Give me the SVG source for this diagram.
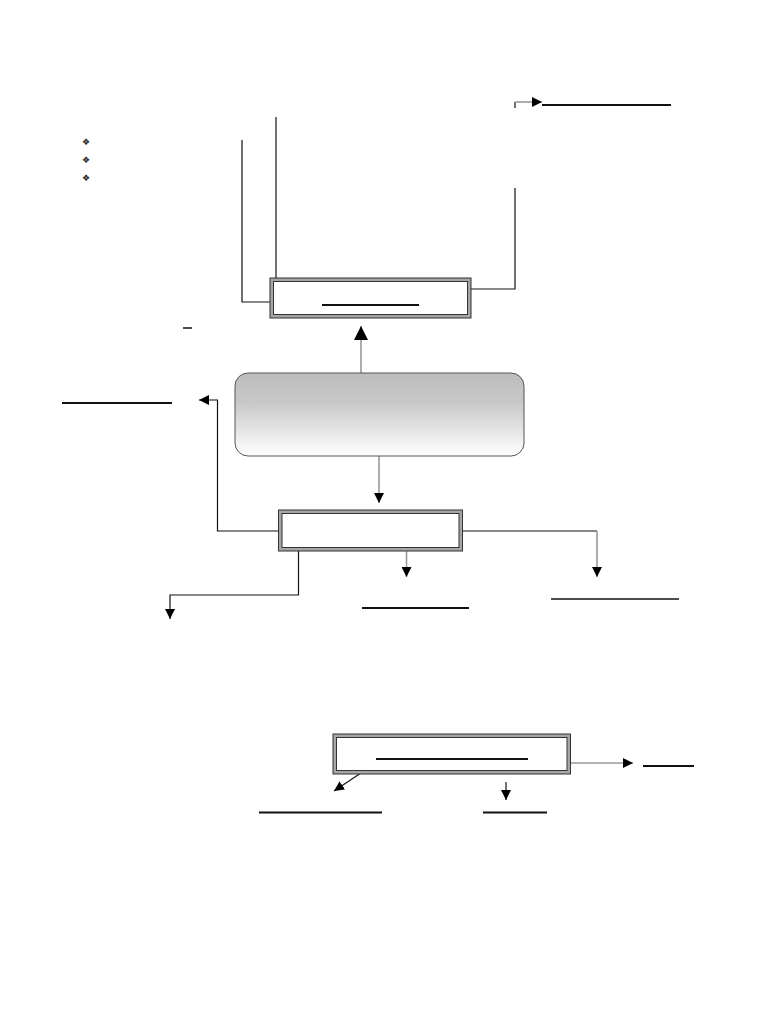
<svg xmlns="http://www.w3.org/2000/svg" width="768" height="1024" viewBox="0 0 768 1024">
<style>
.blk{fill:none;stroke:#111;stroke-width:1.2}
.gry{fill:none;stroke:#999;stroke-width:1.6}
.ul{stroke:#111;stroke-width:2.2}
.outer{fill:#a6a6a6;stroke:#333;stroke-width:1}
.inner{fill:#fff;stroke:#333;stroke-width:1}
.bul{font-family:"DejaVu Sans",sans-serif;font-size:9px;fill:#222}
</style>
<defs>
<marker id="ah" viewBox="0 0 10 10" refX="10" refY="5" markerWidth="10" markerHeight="10" markerUnits="userSpaceOnUse" orient="auto">
<path d="M0,0 L10,5 L0,10 z" fill="#000"/>
</marker>
<marker id="ahL" viewBox="0 0 10 10" refX="10" refY="5" markerWidth="14" markerHeight="14" markerUnits="userSpaceOnUse" orient="auto">
<path d="M0,0 L10,5 L0,10 z" fill="#000"/>
</marker>
<linearGradient id="gr" x1="0" y1="0" x2="0" y2="1">
<stop offset="0" stop-color="#bdbdbd"/>
<stop offset="0.35" stop-color="#c8c8c8"/>
<stop offset="1" stop-color="#ffffff"/>
</linearGradient>
</defs>
<rect width="768" height="1024" fill="#fff"/>

<g id="bullets">
<text class="bul" x="86" y="144.5" text-anchor="middle">❖</text>
<text class="bul" x="86" y="162.5" text-anchor="middle">❖</text>
<text class="bul" x="86" y="180.5" text-anchor="middle">❖</text>
</g>

<g id="connectors">
<path class="blk" d="M242,140 V302 H270"/>
<path class="blk" d="M276,117 V278"/>
<path class="blk" d="M515,188 V289 H471"/>
<path class="blk" d="M515,108 V102"/>
<path class="gry" d="M515,102 H542" marker-end="url(#ah)"/>
<path class="gry" d="M361,373 V326" stroke-width="2" marker-end="url(#ahL)"/>
<path class="blk" d="M278,531 H217.5 V400 H199" marker-end="url(#ah)"/>
<path class="gry" d="M379,456 V503" marker-end="url(#ah)"/>
<path class="blk" d="M462,531 H597" />
<path class="gry" d="M597,531 V577" marker-end="url(#ah)"/>
<path class="gry" d="M406.5,551 V577" marker-end="url(#ah)"/>
<path class="blk" d="M298.5,551 V595 H170 V619" marker-end="url(#ah)"/>
<path class="gry" d="M571,763 H633" marker-end="url(#ah)"/>
<path class="blk" d="M361,773 L334,791" marker-end="url(#ah)"/>
<path class="blk" d="M506,782 V800" marker-end="url(#ah)"/>
</g>

<g id="box1">
<rect class="outer" x="270" y="278" width="201" height="40"/>
<rect class="inner" x="273.5" y="281.5" width="194" height="33"/>
<line class="ul" x1="322" y1="305" x2="419" y2="305"/>
</g>
<g id="label-top-right"><line class="ul" x1="542" y1="105" x2="671" y2="105"/></g>
<g id="dash"><line stroke="#111" stroke-width="1.5" x1="183" y1="328" x2="192" y2="328"/></g>

<g id="center-box">
<rect x="235" y="373" width="289" height="83" rx="13" ry="13" fill="url(#gr)" stroke="#555" stroke-width="1"/>
</g>
<g id="label-left"><line class="ul" x1="62" y1="403" x2="172" y2="403"/></g>

<g id="box2">
<rect class="outer" x="278.5" y="510" width="184" height="41"/>
<rect class="inner" x="282" y="513.5" width="177" height="34"/>
</g>
<g id="label-mid"><line class="ul" x1="362" y1="608" x2="469" y2="608"/></g>
<g id="label-right"><line stroke="#111" stroke-width="1.6" x1="551" y1="599" x2="679" y2="599"/></g>

<g id="box3">
<rect class="outer" x="333" y="734" width="237.5" height="40"/>
<rect class="inner" x="336.5" y="737.5" width="230.5" height="33"/>
<line class="ul" x1="376" y1="759" x2="528" y2="759"/>
</g>
<g id="label-b-right"><line class="ul" x1="643" y1="766" x2="694" y2="766"/></g>
<g id="label-b-mid"><line class="ul" x1="483" y1="812.5" x2="547" y2="812.5"/></g>
<g id="label-b-left"><line class="ul" x1="259" y1="812.5" x2="382" y2="812.5"/></g>
</svg>
